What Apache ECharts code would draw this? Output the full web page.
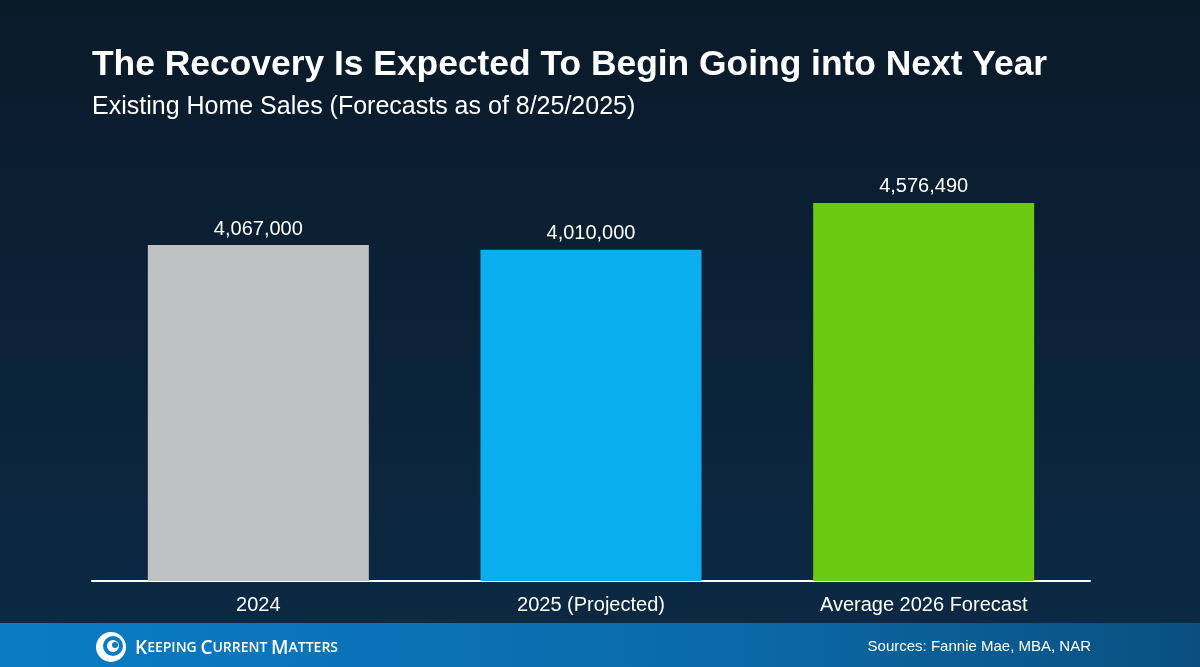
<!DOCTYPE html>
<html>
<head>
<meta charset="utf-8">
<script src="https://cdn.jsdelivr.net/npm/echarts@6/dist/echarts.min.js"></script>
<style>
html, body { margin: 0; padding: 0; background: #0b1c2c; }
#chart { width: 1200px; height: 667px; }
</style>
</head>
<body>
<div id="chart"></div>
<script>
// 数据
var categories = ['2024', '2025 (Projected)', 'Average 2026 Forecast'];
var sales = [4067000, 4010000, 4576490];
var barColors = ['#bec2c3', '#0aaeee', '#6cc911'];

var FONT = '"Liberation Sans", Arial, sans-serif';

var chart = echarts.init(document.getElementById('chart'));

function fmt(v) {
	return String(v).replace(/\B(?=(\d{3})+(?!\d))/g, ',');
}

var option = {
	backgroundColor : new echarts.graphic.LinearGradient(0, 0, 0, 1, [
		{ offset : 0, color : '#0a1a29' },
		{ offset : 1, color : '#0c2a45' }
	]),
	title : [ {
		text : 'The Recovery Is Expected To Begin Going into Next Year',
		left : 87,
		top : 43,
		textStyle : {
			color : '#ffffff',
			fontFamily : FONT,
			fontWeight : 'bold',
			fontSize : 35.4
		}
	}, {
		text : 'Existing Home Sales (Forecasts as of 8/25/2025)',
		left : 87,
		top : 90,
		textStyle : {
			color : '#ffffff',
			fontFamily : FONT,
			fontWeight : 'normal',
			fontSize : 25
		}
	} ],
	grid : {
		left : 92,
		right : 110,
		top : 168,
		bottom : 86
	},
	xAxis : {
		type : 'category',
		data : categories,
		axisLine : { lineStyle : { color : '#ffffff', width : 2 } },
		axisTick : { show : false },
		axisLabel : {
			color : '#ffffff',
			fontFamily : FONT,
			fontSize : 20,
			margin : 14
		}
	},
	yAxis : {
		type : 'value',
		min : 0,
		max : 5000000,
		show : false,
		splitLine : { show : false }
	},
	series : [ {
		type : 'bar',
		barWidth : 221,
		data : sales.map(function(v, i) {
			return { value : v, itemStyle : { color : barColors[i] } };
		}),
		label : {
			show : true,
			position : 'top',
			distance : 6,
			color : '#ffffff',
			fontFamily : FONT,
			fontSize : 20,
			formatter : function(p) { return fmt(p.value); }
		}
	} ],
	graphic : [ {
		// 底部蓝条
		type : 'rect',
		left : 0,
		top : 623,
		shape : { width : 1200, height : 44 },
		style : {
			fill : new echarts.graphic.LinearGradient(0, 0, 1, 0, [
				{ offset : 0, color : '#0a7cc6' },
				{ offset : 0.6, color : '#0a6aa8' },
				{ offset : 1, color : '#0a4f80' }
			])
		},
		silent : true
	}, {
		type : 'circle',
		shape : { cx : 111, cy : 647, r : 15 },
		style : { fill : '#ffffff' }
	}, {
		type : 'circle',
		shape : { cx : 113, cy : 646, r : 10 },
		style : { fill : '#0a7cc6' }
	}, {
		type : 'circle',
		shape : { cx : 113, cy : 646, r : 6 },
		style : { fill : '#ffffff' }
	}, {
		type : 'circle',
		shape : { cx : 115, cy : 645, r : 3 },
		style : { fill : '#0a7cc6' }
	}, {
		type : 'text',
		left : 135,
		top : 639,
		style : {
			text : '{b|K}{s|EEPING }{b|C}{s|URRENT }{b|M}{s|ATTERS}',
			rich : {
				b : { fill : '#ffffff', fontSize : 19, fontFamily : '"Open Sans", sans-serif', fontWeight : 600 },
				s : { fill : '#ffffff', fontSize : 14, fontFamily : '"Open Sans", sans-serif', fontWeight : 600 }
			}
		}
	}, {
		type : 'text',
		right : 109,
		top : 639,
		style : {
			text : 'Sources: Fannie Mae, MBA, NAR',
			fill : '#ffffff',
			fontSize : 15,
			fontFamily : FONT
		}
	} ]
};

chart.setOption(option);
</script>
</body>
</html>
